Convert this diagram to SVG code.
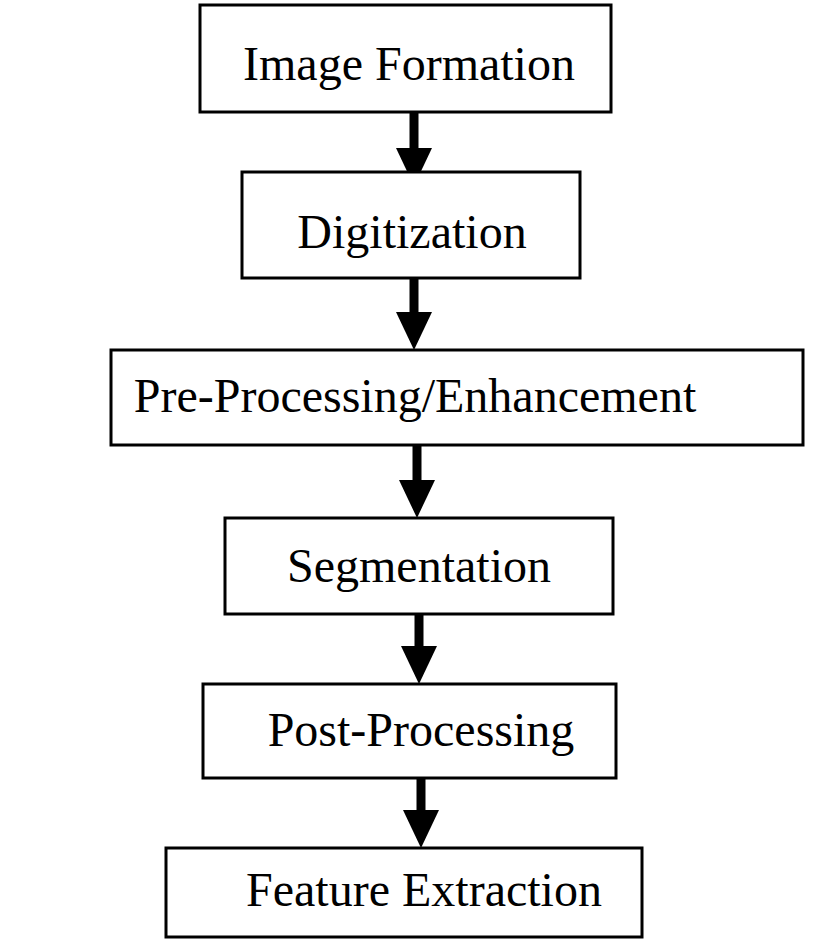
<svg xmlns="http://www.w3.org/2000/svg" width="821" height="948" viewBox="0 0 821 948">
<style>
.box{fill:#fff;stroke:#000;stroke-width:3}
.t{font-family:"Liberation Serif",serif;font-size:48px;text-anchor:middle;fill:#000}
.s{stroke:#000;stroke-width:9}
.h{fill:#000}
</style>
<rect width="821" height="948" fill="#fff"/>
<g id="connectors">
<line class="s" x1="414" y1="112" x2="414" y2="150"/><polygon class="h" points="396,148 432,148 414,186"/>
<line class="s" x1="414" y1="278" x2="414" y2="314"/><polygon class="h" points="396,312 432,312 414,350"/>
<line class="s" x1="417" y1="445" x2="417" y2="482"/><polygon class="h" points="399,480 435,480 417,518"/>
<line class="s" x1="419" y1="614" x2="419" y2="648"/><polygon class="h" points="401,646 437,646 419,684"/>
<line class="s" x1="421" y1="778" x2="421" y2="812"/><polygon class="h" points="403,810 439,810 421,848"/>
</g>
<g id="n1"><rect class="box" x="200" y="5" width="411" height="107"/><text class="t" x="409" y="80">Image Formation</text></g>
<g id="n2"><rect class="box" x="242" y="172" width="338" height="106"/><text class="t" x="412" y="248">Digitization</text></g>
<g id="n3"><rect class="box" x="111" y="350" width="692" height="95"/><text class="t" x="415" y="412">Pre-Processing/Enhancement</text></g>
<g id="n4"><rect class="box" x="225" y="518" width="388" height="96"/><text class="t" x="419" y="582">Segmentation</text></g>
<g id="n5"><rect class="box" x="203" y="684" width="413" height="94"/><text class="t" x="421" y="746">Post-Processing</text></g>
<g id="n6"><rect class="box" x="166" y="848" width="476" height="89"/><text class="t" x="424" y="906">Feature Extraction</text></g>
</svg>
